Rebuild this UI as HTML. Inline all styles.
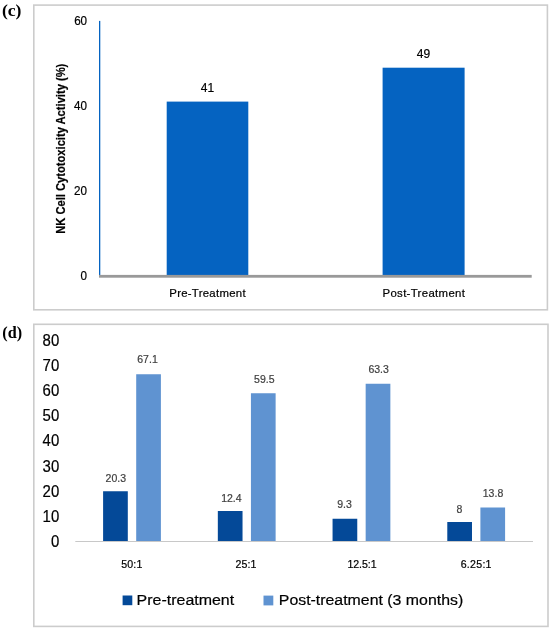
<!DOCTYPE html>
<html><head><meta charset="utf-8">
<style>
html,body{margin:0;padding:0;background:#fff;width:552px;height:630px;overflow:hidden}
svg{display:block;will-change:transform}
text{font-family:"Liberation Sans",sans-serif}
.serif{font-family:"Liberation Serif",serif;font-weight:bold}
g.t text{stroke-width:0.2px}
</style></head><body>
<svg width="552" height="630" viewBox="0 0 552 630">
<rect x="0" y="0" width="552" height="630" fill="#fff"/>
<!-- (c) -->
<text class="serif" x="1.9" y="16.4" font-size="16.5" fill="#000" textLength="19.6" lengthAdjust="spacingAndGlyphs">(c)</text>
<rect x="33.8" y="5.1" width="513.6" height="304.7" fill="none" stroke="#cccccc" stroke-width="1.6"/>
<g class="t" stroke="#000" font-size="12.4" fill="#000" text-anchor="end">
<text transform="translate(87.1,24.8) scale(0.94,1)">60</text>
<text transform="translate(87,110) scale(0.94,1)">40</text>
<text transform="translate(87,195.1) scale(0.94,1)">20</text>
<text transform="translate(87.1,280.3) scale(0.94,1)">0</text>
</g>
<text transform="translate(65.1,148.7) rotate(-90)" text-anchor="middle" font-size="12.8" font-weight="bold" fill="#000" stroke="#000" stroke-width="0.2" textLength="170" lengthAdjust="spacingAndGlyphs">NK Cell Cytotoxicity Activity (%)</text>
<rect x="166.7" y="101.6" width="81.6" height="174" fill="#0563C1"/>
<rect x="382.6" y="67.7" width="82" height="207.7" fill="#0563C1"/>
<rect x="99" y="20.9" width="1.3" height="254.7" fill="#0563C1"/>
<rect x="99" y="274.9" width="432.7" height="2.8" fill="#999"/>
<g class="t" stroke="#000" font-size="12" fill="#000" text-anchor="middle">
<text x="207.5" y="91.7">41</text>
<text x="423.5" y="58">49</text>
<text x="207.4" y="297.1" font-size="11.4" textLength="76.3" lengthAdjust="spacing">Pre-Treatment</text>
<text x="423.7" y="297.1" font-size="11.4" textLength="82.4" lengthAdjust="spacing">Post-Treatment</text>
</g>
<!-- (d) -->
<text class="serif" x="2.3" y="338.1" font-size="16.2" fill="#000">(d)</text>
<rect x="33.8" y="324.3" width="514.2" height="302.1" fill="none" stroke="#cccccc" stroke-width="1.6"/>
<g class="t" stroke="#000" font-size="16.8" fill="#000" text-anchor="end">
<text transform="translate(59.2,345.7) scale(0.89,1)">80</text>
<text transform="translate(59.2,370.9) scale(0.89,1)">70</text>
<text transform="translate(59.2,396.1) scale(0.89,1)">60</text>
<text transform="translate(59.2,421.2) scale(0.89,1)">50</text>
<text transform="translate(59.2,446.4) scale(0.89,1)">40</text>
<text transform="translate(59.2,471.6) scale(0.89,1)">30</text>
<text transform="translate(59.2,496.8) scale(0.89,1)">20</text>
<text transform="translate(59.2,521.9) scale(0.89,1)">10</text>
<text transform="translate(59.2,547.1) scale(0.89,1)">0</text>
</g>
<g id="bars">
<rect x="103.10" y="491.25" width="24.7" height="50.75" fill="#044998"/>
<rect x="136.20" y="374.25" width="24.7" height="167.75" fill="#5F93D1"/>
<rect x="217.83" y="511.00" width="24.7" height="31.00" fill="#044998"/>
<rect x="250.93" y="393.25" width="24.7" height="148.75" fill="#5F93D1"/>
<rect x="332.56" y="518.75" width="24.7" height="23.25" fill="#044998"/>
<rect x="365.66" y="383.75" width="24.7" height="158.25" fill="#5F93D1"/>
<rect x="447.29" y="522.00" width="24.7" height="20.00" fill="#044998"/>
<rect x="480.39" y="507.50" width="24.7" height="34.50" fill="#5F93D1"/>
</g>
<rect x="75.3" y="541" width="457.7" height="1" fill="#c8c8c8"/>
<g class="t" stroke="#404040" font-size="10.5" fill="#404040" text-anchor="middle">
<text x="115.8" y="481.6">20.3</text>
<text x="147.5" y="363.1">67.1</text>
<text x="231.4" y="501.6">12.4</text>
<text x="264.3" y="382.9">59.5</text>
<text x="344.6" y="508.1">9.3</text>
<text x="378.6" y="373">63.3</text>
<text x="459.5" y="513">8</text>
<text x="493" y="497">13.8</text>
</g>
<g class="t" stroke="#000" font-size="10.6" fill="#000" text-anchor="middle">
<text x="131.8" y="568.2" textLength="21.2" lengthAdjust="spacing">50:1</text>
<text x="245.9" y="568.2" textLength="21" lengthAdjust="spacing">25:1</text>
<text x="362" y="568.2" textLength="29.2" lengthAdjust="spacing">12.5:1</text>
<text x="476.1" y="568.2" textLength="30.8" lengthAdjust="spacing">6.25:1</text>
</g>
<rect x="122.6" y="595.5" width="9.7" height="9.7" fill="#044998"/>
<rect x="263.5" y="595.6" width="9.8" height="9.8" fill="#5F93D1"/>
<g class="t" stroke="#000" font-size="15.2" fill="#000">
<text x="136.6" y="605.1" textLength="97.6" lengthAdjust="spacingAndGlyphs">Pre-treatment</text>
<text x="278.8" y="605.1" textLength="184.4" lengthAdjust="spacingAndGlyphs">Post-treatment (3 months)</text>
</g>
</svg>
</body></html>
